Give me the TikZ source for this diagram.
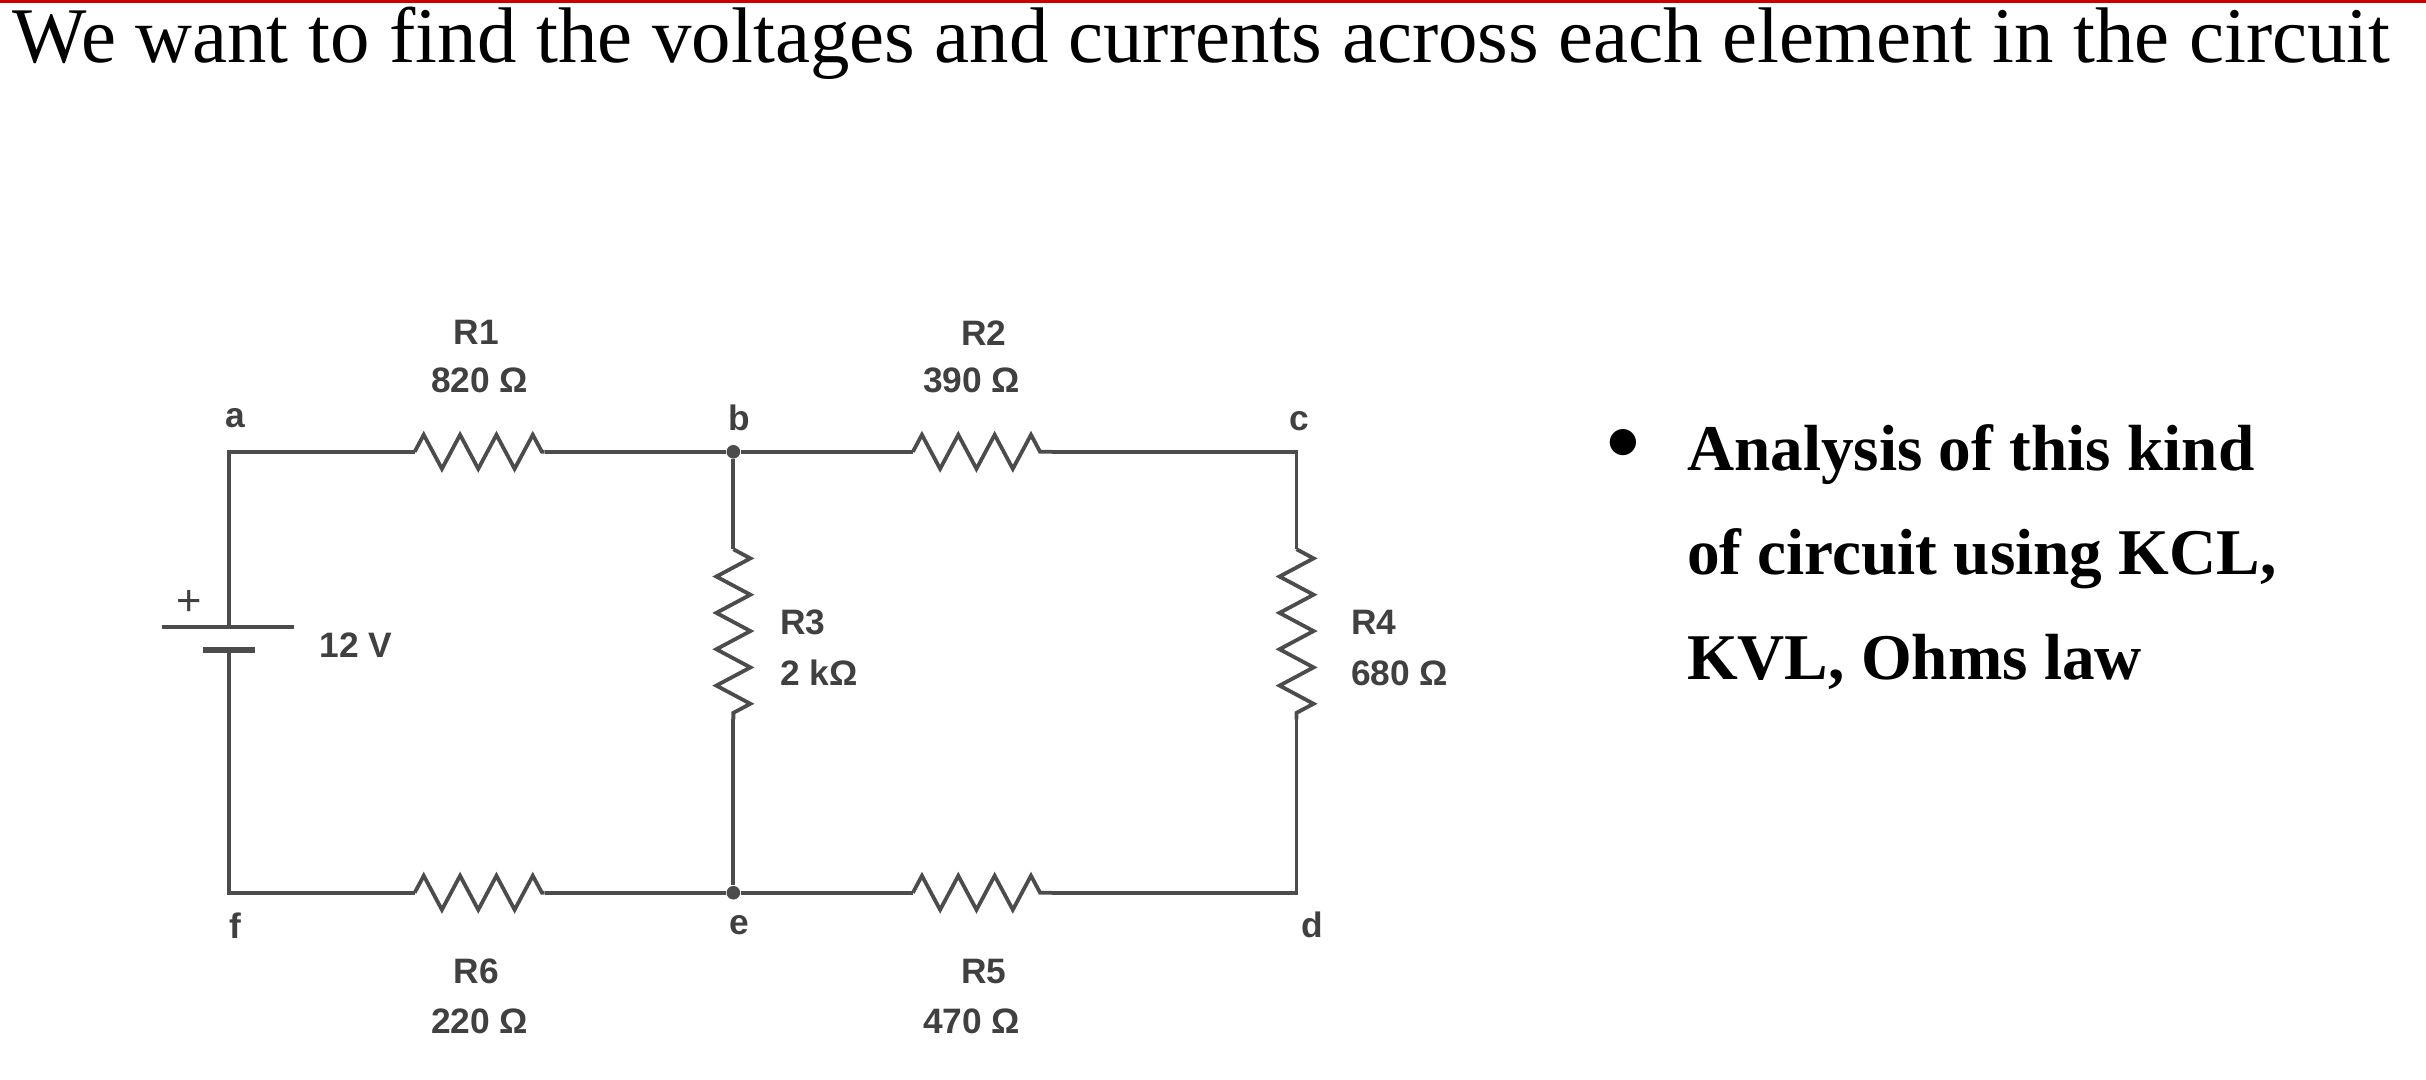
\documentclass[tikz,border=0pt]{standalone}
\usepackage{fontspec}
\setmainfont{Liberation Serif}
\newfontfamily\circfont{Liberation Sans}
\usetikzlibrary{decorations.pathmorphing}

\tikzset{
  wire/.style={draw=black!70, line width=1.4pt},
  resistor/.style={wire, decoration={zigzag, segment length=0.47cm, amplitude=0.22cm}, decorate},
  lbl/.style={font=\circfont\bfseries\fontsize{13}{15}\selectfont, text=black!75, inner sep=0pt},
  dot/.style={circle, fill=black!70, inner sep=0pt, minimum size=5pt}
}

\begin{document}
\begin{tikzpicture}[x=0.02cm, y=-0.02cm]
  \useasboundingbox (0,0) rectangle (1568,698);
  \draw[red!80!black, line width=1pt] (0,1) -- (1568,1);
  \node[anchor=west, inner sep=0pt, font=\fontsize{29}{34}\selectfont] (title) at (8,28)
    {We want to find the voltages and currents across each element in the circuit};

  % corners and junctions
  \coordinate (a) at (148,292);
  \coordinate (c) at (838,292);
  \coordinate (f) at (148,577);
  \coordinate (d) at (838,577);
  \node[dot] (b) at (474,292) {};
  \node[dot] (e) at (474,577) {};
  % resistor ends
  \coordinate (r1a) at (268,292); \coordinate (r1b) at (352,292);
  \coordinate (r2a) at (590,292); \coordinate (r2b) at (680,292);
  \coordinate (r6a) at (268,577); \coordinate (r6b) at (352,577);
  \coordinate (r5a) at (590,577); \coordinate (r5b) at (680,577);
  \coordinate (r3a) at (474,355); \coordinate (r3b) at (474,465);
  \coordinate (r4a) at (838,355); \coordinate (r4b) at (838,465);
  % battery
  \coordinate (bp) at (148,405);
  \coordinate (bn) at (148,420);
  \coordinate (bpl) at (105,405); \coordinate (bpr) at (190,405);
  \coordinate (bnl) at (131,420); \coordinate (bnr) at (165,420);

  \draw[wire] (bp) -- (a) -- (r1a);
  \draw[resistor] (r1a) -- (r1b);
  \draw[wire] (r1b) -- (b) -- (r2a);
  \draw[resistor] (r2a) -- (r2b);
  \draw[wire] (r2b) -- (c) -- (r4a);
  \draw[resistor] (r4a) -- (r4b);
  \draw[wire] (r4b) -- (d) -- (r5b);
  \draw[resistor] (r5a) -- (r5b);
  \draw[wire] (r5a) -- (e) -- (r6b);
  \draw[resistor] (r6a) -- (r6b);
  \draw[wire] (r6a) -- (f) -- (bn);
  \draw[wire] (b) -- (r3a);
  \draw[resistor] (r3a) -- (r3b);
  \draw[wire] (r3b) -- (e);
  \draw[wire] (bpl) -- (bpr);
  \draw[wire, line width=2.4pt] (bnl) -- (bnr);

  % labels
  \node[lbl, font=\circfont\fontsize{16}{16}\selectfont] (plus) at (122,390) {+};
  \node[lbl] (vs) at (230,417) {12 V};
  \node[lbl] (la) at (152,270) {a};
  \node[lbl] (lb) at (478,270) {b};
  \node[lbl] (lc) at (840,272) {c};
  \node[lbl] (lf) at (152,598) {f};
  \node[lbl] (le) at (478,598) {e};
  \node[lbl] (ld) at (848,598) {d};
  \node[lbl] (r1) at (308,215) {R1};
  \node[lbl] (v1) at (310,246) {820 Ω};
  \node[lbl] (r2) at (636,215) {R2};
  \node[lbl] (v2) at (628,246) {390 Ω};
  \node[lbl, anchor=west] (r3) at (504,402) {R3};
  \node[lbl, anchor=west] (v3) at (504,435) {2 kΩ};
  \node[lbl, anchor=west] (r4) at (873,402) {R4};
  \node[lbl, anchor=west] (v4) at (873,435) {680 Ω};
  \node[lbl] (r6) at (308,628) {R6};
  \node[lbl] (v6) at (310,660) {220 Ω};
  \node[lbl] (r5) at (636,628) {R5};
  \node[lbl] (v5) at (628,660) {470 Ω};

  % bullet text
  \node[anchor=west, inner sep=0pt, font=\fontsize{24}{26}\selectfont] (bul) at (1038,287) {$\bullet$};
  \node[anchor=west, inner sep=0pt, align=left, font=\bfseries\fontsize{24}{38.5}\selectfont] (txt) at (1090,360)
    {Analysis of this kind\\ of circuit using KCL,\\ KVL, Ohms law};
\end{tikzpicture}
\end{document}
